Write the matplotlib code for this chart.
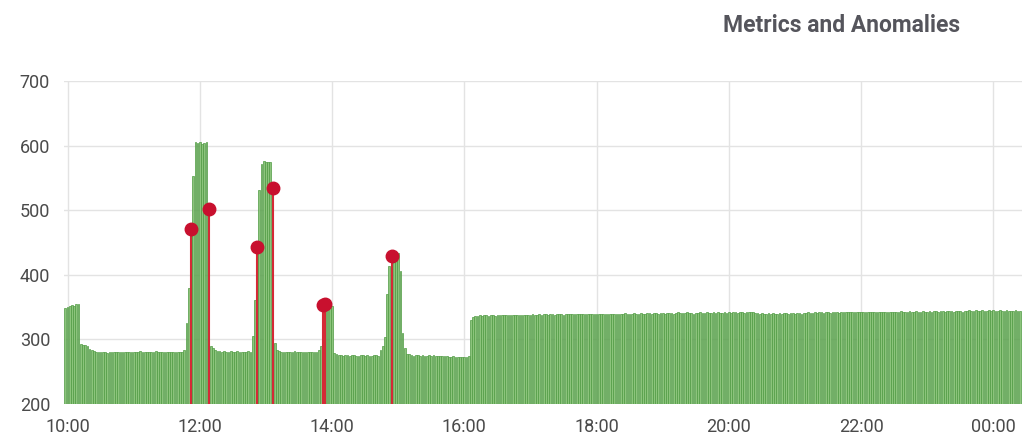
import numpy as np
import pandas as pd
import matplotlib
matplotlib.use("Agg")
from matplotlib import pyplot as plt

# metric values, one bar every 2 minutes starting 09:58
start = "2018-01-01 09:58"
pre = [348]
hour10 = [350, 352, 353, 352, 355, 355, 293, 292, 292, 290, 285, 284, 282, 281, 280,
          280, 281, 280, 279, 280, 281, 280, 280, 281, 280, 281, 280, 280, 280, 281]
hour11 = [281, 280, 281, 282, 281, 280, 281, 281, 280, 281, 282, 281, 281, 280, 281,
          280, 280, 281, 281, 280, 281, 281, 281, 284, 326, 380, 471, 553, 605, 604]
hour12 = [605, 603, 604, 605, 502, 290, 286, 283, 282, 282, 281, 282, 281, 281, 282,
          281, 281, 282, 281, 280, 281, 281, 282, 281, 306, 361, 443, 531, 572, 576]
hour13 = [575, 574, 574, 534, 294, 284, 282, 281, 281, 281, 280, 281, 281, 282, 281,
          281, 280, 281, 281, 281, 280, 281, 281, 281, 283, 290, 354, 355, 352, 352]
hour14 = [352, 279, 277, 276, 276, 275, 276, 276, 275, 276, 276, 275, 275, 276, 276,
          275, 276, 275, 275, 276, 276, 274, 283, 290, 304, 370, 413, 429, 433, 433]
hour15 = [433, 406, 310, 286, 278, 277, 276, 275, 276, 276, 275, 276, 275, 275, 276,
          275, 276, 275, 274, 275, 275, 274, 274, 273, 273, 274, 273, 273, 272, 273]
hour16 = [273, 272, 274, 330, 335, 336, 336, 337, 336, 337, 337, 336, 337, 337, 336,
          337, 337, 338, 337, 337, 338, 337, 338, 338, 337, 338, 338, 337, 338, 338]
hour17 = [338, 339, 338, 338, 339, 338, 339, 339, 338, 339, 339, 338, 339, 339, 339,
          338, 339, 339, 340, 339, 339, 339, 340, 339, 339, 340, 339, 339, 340, 339]
hour18 = [340, 339, 340, 340, 339, 340, 340, 339, 340, 340, 340, 339, 340, 341, 340,
          340, 340, 341, 340, 340, 341, 340, 340, 341, 341, 340, 341, 341, 340, 341]
hour19 = [341, 340, 341, 341, 341, 340, 341, 342, 341, 341, 341, 342, 341, 341, 340,
          341, 341, 342, 341, 341, 342, 341, 341, 342, 341, 342, 341, 341, 342, 341]
hour20 = [342, 341, 342, 342, 341, 342, 342, 341, 342, 342, 343, 342, 341, 341, 340,
          341, 340, 340, 341, 340, 341, 340, 340, 341, 340, 341, 341, 340, 341, 341]
hour21 = [340, 341, 341, 340, 341, 341, 342, 341, 341, 342, 341, 342, 342, 341, 342,
          342, 341, 342, 342, 342, 341, 342, 342, 343, 342, 342, 342, 343, 342, 342]
hour22 = [342, 343, 342, 342, 343, 342, 343, 343, 342, 343, 343, 342, 343, 343, 343,
          342, 343, 343, 344, 343, 343, 343, 344, 343, 343, 344, 343, 343, 344, 343]
hour23 = [343, 344, 343, 344, 344, 343, 344, 344, 343, 344, 344, 344, 343, 344, 344,
          344, 343, 344, 344, 345, 344, 344, 345, 344, 344, 345, 344, 344, 345, 344]
hour00 = [345, 344, 344, 345, 344, 344, 345, 344, 344, 344, 345, 344, 344]

values = (pre + hour10 + hour11 + hour12 + hour13 + hour14 + hour15 + hour16 + hour17
          + hour18 + hour19 + hour20 + hour21 + hour22 + hour23 + hour00)

# anomalies
anom_times = ["11:52", "12:08", "12:52", "13:06", "13:52", "13:54", "14:54"]
anom_values = [471, 502, 443, 534, 354, 355, 429]

x_ticks = ["10:00", "12:00", "14:00", "16:00", "18:00", "20:00", "22:00", "00:00"]
y_ticks = [200, 300, 400, 500, 600, 700]

t = pd.date_range(start, periods=len(values), freq="2min")
at = pd.to_datetime(["2018-01-01 " + s for s in anom_times])
step = 2.0 / 1440

fig = plt.figure(figsize=(10.24, 4.48), dpi=100)
ax = fig.add_axes([64 / 1024, 1 - 404 / 448, 958 / 1024, 323 / 448])

ax.bar(t, np.array(values) - 200, bottom=200, width=step * 0.78,
       color="#8cc47c", edgecolor="#4f9a42", linewidth=0.5, zorder=2)
ax.vlines(at, 200, anom_values, color="#d42a36", linewidth=1.5, zorder=3)
ax.plot(at, anom_values, "o", color="#c8102e", markersize=9, zorder=4)

ax.set_ylim(200, 700)
ax.set_yticks(y_ticks)
x0 = pd.Timestamp("2018-01-01 10:00")
tick_pos = [x0 + pd.Timedelta(hours=2 * i) for i in range(len(x_ticks))]
ax.set_xticks(tick_pos)
ax.set_xticklabels(x_ticks)
ax.set_xlim(pd.Timestamp(start) - pd.Timedelta(minutes=1.2),
            pd.Timestamp("2018-01-02 00:26"))

ax.grid(True, color="#e3e3e3", linewidth=1.0, zorder=0)
ax.set_axisbelow(True)
for s in ax.spines.values():
    s.set_visible(False)
ax.tick_params(axis="both", length=0, labelsize=13, labelcolor="#4a4a4a",
               labelfontfamily="Roboto")
ax.tick_params(axis="x", pad=10)
ax.tick_params(axis="y", pad=10)

fig.text(0.822, 0.944, "Metrics and Anomalies", ha="center", va="center",
         fontsize=16.5, fontweight="bold", color="#55555c", family="Roboto")

fig.savefig("out.png", dpi=100)
